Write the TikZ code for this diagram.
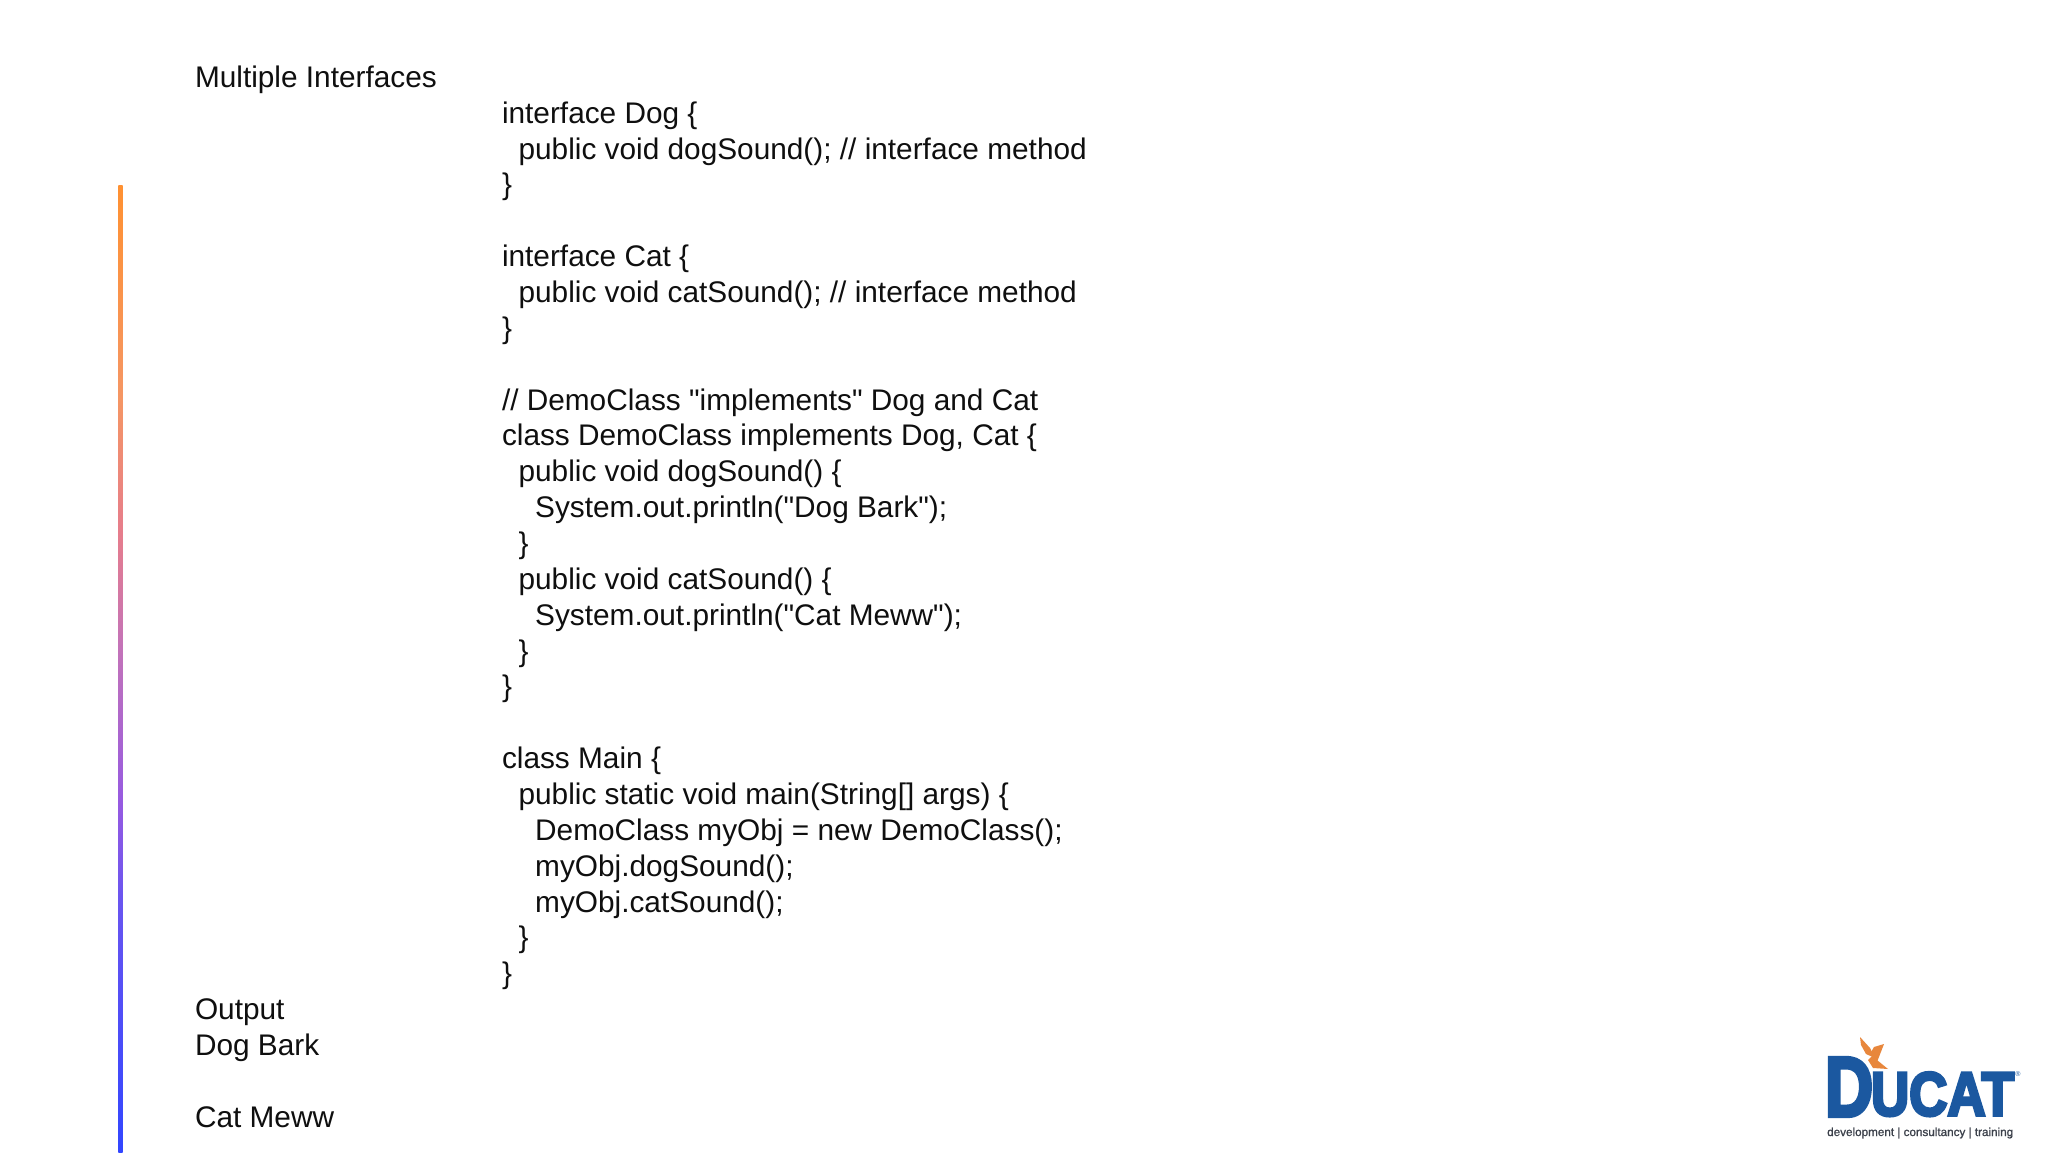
\documentclass[tikz,border=0pt]{standalone}
\usepackage{fontspec}
\setmainfont{Liberation Sans}
\newfontfamily\codefont{Liberation Sans}
\newfontfamily\logofont{Liberation Sans}[BoldFeatures={FakeBold=5}]
\newfontfamily\tagfont{Liberation Sans}[FakeBold=1.2]
\definecolor{barorange}{RGB}{255,145,50}
\definecolor{barb}{RGB}{245,150,100}
\definecolor{barpink}{RGB}{230,125,140}
\definecolor{barm}{RGB}{195,115,185}
\definecolor{barviolet}{RGB}{150,90,225}
\definecolor{barv}{RGB}{105,85,240}
\definecolor{barblue}{RGB}{50,70,255}
\pgfdeclareverticalshading{barshade}{100bp}{
 color(0bp)=(barblue);
 color(25bp)=(barblue);
 color(38bp)=(barv);
 color(43bp)=(barviolet);
 color(51bp)=(barm);
 color(57bp)=(barpink);
 color(64bp)=(barb);
 color(75bp)=(barorange);
 color(100bp)=(barorange)}
\definecolor{ink}{RGB}{15,15,15}
\definecolor{logoblue}{RGB}{27,88,160}
\definecolor{logoorange}{RGB}{232,135,60}
\definecolor{taggray}{RGB}{60,65,75}
\tikzset{
  txt/.style={anchor=base west,inner sep=0pt,outer sep=0pt,text=ink,font=\codefont\fontsize{29.8}{36}\selectfont},
  logoletter/.style={anchor=south west,inner sep=0pt,outer sep=0pt,text=logoblue,font=\logofont\bfseries},
  wing/.style={fill=logoorange,draw=none}
}
\newcommand{\logoglyph}[3]{\resizebox{#1pt}{#2pt}{#3}}
\begin{document}
\begin{tikzpicture}[x=1pt,y=1pt]
\useasboundingbox (0,0) rectangle (2048,-1152);
\fill[white] (0,0) rectangle (2048,-1152);
\shade[shading=barshade] (118.3,-185) rectangle (122.7,-1152);
\def\Lx{195}\def\Cx{502}\def\Iax{518.6}\def\Ibx{535.2}
\node[txt] (t0) at (\Lx,-87.3) {Multiple Interfaces};
\node[txt] (c1) at (\Cx,-123.2) {interface Dog \{};
\node[txt] (c2) at (\Iax,-159) {public void dogSound(); // interface method};
\node[txt] (c3) at (\Cx,-194.9) {\}};
\node[txt] (c5) at (\Cx,-266.6) {interface Cat \{};
\node[txt] (c6) at (\Iax,-302.5) {public void catSound(); // interface method};
\node[txt] (c7) at (\Cx,-338.3) {\}};
\node[txt] (c9) at (\Cx,-410) {// DemoClass "implements" Dog and Cat};
\node[txt] (c10) at (\Cx,-445.9) {class DemoClass implements Dog, Cat \{};
\node[txt] (c11) at (\Iax,-481.8) {public void dogSound() \{};
\node[txt] (c12) at (\Ibx,-517.6) {System.out.println("Dog Bark");};
\node[txt] (c13) at (\Iax,-553.5) {\}};
\node[txt] (c14) at (\Iax,-589.3) {public void catSound() \{};
\node[txt] (c15) at (\Ibx,-625.2) {System.out.println("Cat Meww");};
\node[txt] (c16) at (\Iax,-661) {\}};
\node[txt] (c17) at (\Cx,-696.9) {\}};
\node[txt] (c19) at (\Cx,-768.6) {class Main \{};
\node[txt] (c20) at (\Iax,-804.5) {public static void main(String[] args) \{};
\node[txt] (c21) at (\Ibx,-840.3) {DemoClass myObj = new DemoClass();};
\node[txt] (c22) at (\Ibx,-876.2) {myObj.dogSound();};
\node[txt] (c23) at (\Ibx,-912) {myObj.catSound();};
\node[txt] (c24) at (\Iax,-947.9) {\}};
\node[txt] (c25) at (\Cx,-983.7) {\}};
\node[txt] (o1) at (\Lx,-1019.6) {Output};
\node[txt] (o2) at (\Lx,-1055.4) {Dog Bark};
\node[txt] (o3) at (\Lx,-1127.3) {Cat Meww};
% logo
\node[logoletter] (ld) at (1825,-1116) {\logoglyph{48}{58}{D}};
\node[logoletter] (lu) at (1871,-1116) {\logoglyph{143}{43}{UCAT}};
\node[anchor=center,inner sep=0pt,text=logoblue,font=\fontsize{7}{7}\selectfont] (lr) at (2018,-1074) {®};
\fill[wing] (1860,-1037) -- (1870,-1048) -- (1875,-1058) -- (1866,-1054) -- (1861,-1045) -- cycle;
\fill[wing] (1884,-1044) -- (1877,-1062) -- (1870,-1054) -- (1874,-1047) -- cycle;
\fill[wing] (1872,-1056) -- (1888,-1069) -- (1873,-1068) -- (1868,-1060) -- cycle;
\node[anchor=base west,inner sep=0pt,text=taggray,font=\tagfont] (ltag) at (1827,-1136) {\resizebox{186pt}{!}{development | consultancy | training}};
\end{tikzpicture}
\end{document}
